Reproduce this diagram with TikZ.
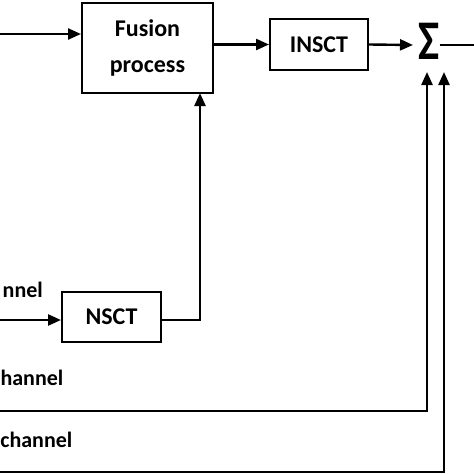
\documentclass[tikz,border=0pt]{standalone}
\usepackage{fontspec}
\setmainfont{Carlito}
\usepackage{tikz}
\usetikzlibrary{calc,arrows.meta}

\begin{document}
\begin{tikzpicture}[x=1pt,y=-1pt]
                \tikzstyle{every node}+=[inner sep=0pt,font=\fontsize{24}{36}\selectfont\bfseries]
                \tikzstyle{blockbox}=[draw=black,line width=2pt,minimum height=50pt]
                \tikzstyle{chlabel}=[anchor=base east,font=\fontsize{22}{22}\selectfont\bfseries]
                \tikzstyle{wire}=[black,line width=2.4pt]
                \tikzstyle{arr}=[wire,-{Triangle[length=13pt,width=11pt]}]
                \useasboundingbox (0,0) rectangle (474,474);
                \clip (0,0) rectangle (474,474);
                % blocks
                \node [blockbox,minimum width=131pt,minimum height=90pt,align=center] (fusion) at (147.5,48) {Fusion\\process};
                \node [blockbox,minimum width=98pt,minimum height=51pt] (insct) at (319,44.5) {INSCT};
                \node [blockbox,minimum width=99pt,minimum height=50pt] (nsct) at (111.5,317) {NSCT};
                \node [font=\fontsize{56}{56}\selectfont\bfseries] (sum) at (429,41) {\scalebox{0.8}[1]{Σ}};
                % channel labels
                \node [chlabel] (lab1) at (43,297) {nnel};
                \node [chlabel] (lab2) at (63.5,385) {hannel};
                \node [chlabel] (lab3) at (72.5,447) {channel};
                % free ends
                \coordinate (in1) at (0,34);
                \coordinate (in2) at (0,320);
                \coordinate (in3) at (0,411);
                \coordinate (in4) at (0,472);
                \coordinate (out) at (474,45);
                \coordinate (fin) at (200,93);
                \coordinate (sumin) at (413,45);
                \coordinate (s1) at (427,72);
                \coordinate (s2) at (444,72);
                % connectors
                \draw [arr] (in1) -- (fusion.west |- in1);
                \draw [arr] (fusion.east |- insct.west) -- (insct.west);
                \draw [arr] (insct.east) -- (sumin);
                \draw [wire] (sum.east |- out) -- (out);
                \draw [arr] (in2) -- (nsct.west |- in2);
                \draw [arr] (nsct.east |- in2) -| (fin);
                \draw [arr] (in3) -| (s1);
                \draw [arr] (in4) -| (s2);
            \end{tikzpicture}
\end{document}
